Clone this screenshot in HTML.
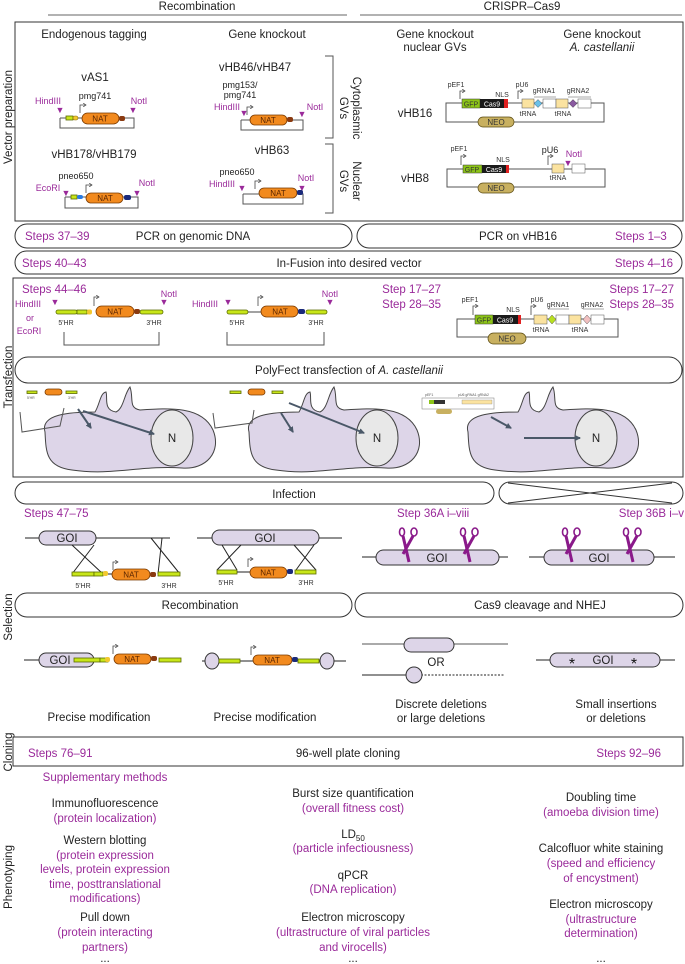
<!DOCTYPE html>
<html><head><meta charset="utf-8"><style>
html,body{margin:0;padding:0;background:#fff}
svg{display:block;font-family:"Liberation Sans",Arial,sans-serif}
.t{font-size:11.5px;fill:#222}
.p{font-size:11.5px;fill:#9a2a9a}
.s{font-size:9px;fill:#222}
.sp{font-size:9px;fill:#9a2a9a}
.xs{font-size:7px;fill:#333}
.n{font-size:8px;fill:#5a2500}
.ln{stroke:#555;fill:none;stroke-width:1}
.nat{fill:#f28a1e;stroke:#7a3a00;stroke-width:.8}
.gr{fill:#c8e619;stroke:#5a6a00;stroke-width:.8}
.goi{fill:#ddd5e8;stroke:#333;stroke-width:1}
.pill{fill:#fff;stroke:#333;stroke-width:1}
.ar{stroke:#4a5868;stroke-width:2;fill:none}
</style></head><body>
<svg width="685" height="964" viewBox="0 0 685 964">
<defs>
<marker id="ah" markerWidth="6" markerHeight="6" refX="5" refY="3" orient="auto" markerUnits="userSpaceOnUse"><path d="M0,0 L6,3 L0,6 Z" fill="#4a5868"/></marker>
<marker id="pa" markerWidth="4" markerHeight="4" refX="3" refY="2" orient="auto" markerUnits="userSpaceOnUse"><path d="M0,0 L3,2 L0,4" fill="none" stroke="#444" stroke-width=".7"/></marker>
<path id="blob" d="M45,432 C40,414 70,412 95,412 C100,404 100,393 106,392 C108,398 103,410 116,412 C124,408 124,394 130,387 C134,398 128,408 140,410 C170,408 202,406 213,430 C222,452 206,470 182,468 C142,465 112,476 72,470 C46,467 46,452 45,432 Z"/>
</defs>

<text x="197" y="10" class="t" text-anchor="middle">Recombination</text>
<line x1="48" y1="15" x2="347" y2="15" stroke="#666"/>
<text x="522" y="10" class="t" text-anchor="middle">CRISPR–Cas9</text>
<line x1="360" y1="15" x2="682" y2="15" stroke="#666"/>

<rect x="15" y="22" width="668" height="199" fill="none" stroke="#333"/>
<text transform="translate(12,117) rotate(-90)" class="t" text-anchor="middle">Vector preparation</text>
<text x="94" y="38" class="t" text-anchor="middle">Endogenous tagging</text>
<text x="267" y="38" class="t" text-anchor="middle">Gene knockout</text>
<text x="435" y="38" class="t" text-anchor="middle">Gene knockout</text>
<text x="435" y="51" class="t" text-anchor="middle">nuclear GVs</text>
<text x="602" y="38" class="t" text-anchor="middle">Gene knockout</text>
<text x="602" y="51" class="t" text-anchor="middle" font-style="italic">A. castellanii</text>

<text x="95" y="81" class="t" text-anchor="middle">vAS1</text>
<text x="95" y="99" class="s" text-anchor="middle">pmg741</text>
<text x="48" y="104" class="sp" text-anchor="middle">HindIII</text>
<text x="139" y="104" class="sp" text-anchor="middle">NotI</text>
<text x="60" y="113" class="sp" text-anchor="middle" font-size="8">▼</text>
<text x="133" y="113" class="sp" text-anchor="middle" font-size="8">▼</text>
<path class="ln" d="M60,118 V128 H134 V118 H60"/>
<rect x="66" y="116" width="7" height="4" class="gr"/><rect x="73" y="116" width="5" height="4" rx="2" fill="#f2c830" stroke="#8a6a00" stroke-width=".6"/>
<path d="M80,113 v-8 h6" fill="none" stroke="#444" stroke-width=".8" marker-end="url(#pa)"/>
<rect x="82" y="113" width="37" height="11" rx="5.5" class="nat"/><text x="100" y="121.5" class="n" text-anchor="middle">NAT</text>
<rect x="119" y="116" width="6" height="5" rx="2" fill="#8a3a10"/>

<text x="255" y="71" class="t" text-anchor="middle">vHB46/vHB47</text>
<text x="240" y="88" class="s" text-anchor="middle">pmg153/</text>
<text x="240" y="98" class="s" text-anchor="middle">pmg741</text>
<text x="227" y="110" class="sp" text-anchor="middle">HindIII</text>
<text x="315" y="110" class="sp" text-anchor="middle">NotI</text>
<text x="244" y="116" class="sp" text-anchor="middle" font-size="8">▼</text>
<text x="302" y="117" class="sp" text-anchor="middle" font-size="8">▼</text>
<path class="ln" d="M241,120 V130 H303 V120 H241"/>
<path d="M247,115 v-8 h6" fill="none" stroke="#444" stroke-width=".8" marker-end="url(#pa)"/>
<rect x="250" y="115" width="37" height="10" rx="5" class="nat"/><text x="268" y="123" class="n" text-anchor="middle">NAT</text>
<rect x="287" y="117" width="6" height="5" rx="2" fill="#8a3a10"/>

<path class="ln" d="M325,56 H333 V138 H325" stroke="#333"/>
<path class="ln" d="M325,144 H333 V213 H325" stroke="#333"/>
<text transform="translate(353,108) rotate(90)" class="t" text-anchor="middle">Cytoplasmic</text>
<text transform="translate(340,108) rotate(90)" class="t" text-anchor="middle">GVs</text>
<text transform="translate(353,181) rotate(90)" class="t" text-anchor="middle">Nuclear</text>
<text transform="translate(340,181) rotate(90)" class="t" text-anchor="middle">GVs</text>

<text x="94" y="158" class="t" text-anchor="middle">vHB178/vHB179</text>
<text x="76" y="179" class="s" text-anchor="middle">pneo650</text>
<text x="48" y="191" class="sp" text-anchor="middle">EcoRI</text>
<text x="147" y="186" class="sp" text-anchor="middle">NotI</text>
<text x="66" y="196" class="sp" text-anchor="middle" font-size="8">▼</text>
<text x="137" y="196" class="sp" text-anchor="middle" font-size="8">▼</text>
<path class="ln" d="M65,197 V208 H138 V197 H65"/>
<rect x="71" y="195" width="6" height="4" class="gr"/><rect x="77" y="195" width="6" height="4" rx="2" fill="#2a7ae0"/>
<path d="M86,193 v-8 h6" fill="none" stroke="#444" stroke-width=".8" marker-end="url(#pa)"/>
<rect x="86" y="193" width="37" height="10" rx="5" class="nat"/><text x="105" y="201" class="n" text-anchor="middle">NAT</text>
<rect x="124" y="195" width="7" height="5" rx="2" fill="#1a2a7a"/>

<text x="272" y="154" class="t" text-anchor="middle">vHB63</text>
<text x="237" y="175" class="s" text-anchor="middle">pneo650</text>
<text x="222" y="187" class="sp" text-anchor="middle">HindIII</text>
<text x="306" y="181" class="sp" text-anchor="middle">NotI</text>
<text x="242" y="191" class="sp" text-anchor="middle" font-size="8">▼</text>
<text x="302" y="191" class="sp" text-anchor="middle" font-size="8">▼</text>
<path class="ln" d="M243,194 V204 H303 V194 H243"/>
<path d="M255,189 v-8 h6" fill="none" stroke="#444" stroke-width=".8" marker-end="url(#pa)"/>
<rect x="259" y="188" width="38" height="10" rx="5" class="nat"/><text x="278" y="196" class="n" text-anchor="middle">NAT</text>
<rect x="297" y="190" width="6" height="5" rx="2" fill="#1a2a7a"/>

<text x="415" y="117" class="t" text-anchor="middle">vHB16</text>
<rect x="446" y="103" width="158" height="19" fill="none" stroke="#555"/>
<text x="456" y="87" class="xs" text-anchor="middle">pEF1</text>
<path d="M460,99 v-8 h5" fill="none" stroke="#444" stroke-width=".8" marker-end="url(#pa)"/>
<rect x="462" y="99" width="18" height="9" fill="#8cc418" stroke="#333" stroke-width=".5"/><text x="471" y="106.5" class="xs" text-anchor="middle">GFP</text>
<rect x="480" y="99" width="24" height="9" fill="#1a1a1a"/><text x="492" y="106.5" class="xs" style="fill:#fff" text-anchor="middle">Cas9</text>
<rect x="504" y="99" width="4" height="9" fill="#e02020"/>
<text x="502" y="97" class="xs" text-anchor="middle">NLS</text>
<text x="522" y="87" class="xs" text-anchor="middle">pU6</text>
<path d="M518,99 v-8 h5" fill="none" stroke="#444" stroke-width=".8" marker-end="url(#pa)"/>
<rect x="522" y="99" width="12" height="9" fill="#fbe3a0" stroke="#555" stroke-width=".5"/>
<path d="M538,99.5 l4,4 -4,4 -4,-4z" fill="#6ac0e8" stroke="#333" stroke-width=".4"/>
<rect x="543" y="99" width="13" height="9" fill="#fff" stroke="#555" stroke-width=".5"/>
<rect x="556" y="99" width="12" height="9" fill="#fbe3a0" stroke="#555" stroke-width=".5"/>
<path d="M573,99.5 l4,4 -4,4 -4,-4z" fill="#8a5aa0" stroke="#333" stroke-width=".4"/>
<rect x="578" y="99" width="13" height="9" fill="#fff" stroke="#555" stroke-width=".5"/>
<text x="544" y="93" class="xs" text-anchor="middle">gRNA1</text><line x1="534" y1="97" x2="556" y2="97" stroke="#555" stroke-width=".6"/>
<text x="578" y="93" class="xs" text-anchor="middle">gRNA2</text><line x1="568" y1="97" x2="591" y2="97" stroke="#555" stroke-width=".6"/>
<text x="528" y="116" class="xs" text-anchor="middle">tRNA</text><text x="563" y="116" class="xs" text-anchor="middle">tRNA</text>
<rect x="478" y="117" width="36" height="10" rx="5" fill="#c8b060" stroke="#5a4a10" stroke-width=".7"/><text x="496" y="125" class="n" text-anchor="middle" style="fill:#333">NEO</text>

<text x="415" y="182" class="t" text-anchor="middle">vHB8</text>
<rect x="447" y="169" width="158" height="18" fill="none" stroke="#555"/>
<text x="459" y="151" class="xs" text-anchor="middle">pEF1</text>
<path d="M461,165 v-9 h5" fill="none" stroke="#444" stroke-width=".8" marker-end="url(#pa)"/>
<rect x="463" y="165" width="19" height="8" fill="#8cc418" stroke="#333" stroke-width=".5"/><text x="472" y="172" class="xs" text-anchor="middle">GFP</text>
<rect x="482" y="165" width="24" height="8" fill="#1a1a1a"/><text x="494" y="172" class="xs" style="fill:#fff" text-anchor="middle">Cas9</text>
<rect x="506" y="165" width="3" height="8" fill="#e02020"/>
<text x="503" y="162" class="xs" text-anchor="middle">NLS</text>
<text x="550" y="153" class="s" text-anchor="middle">pU6</text>
<path d="M548,165 v-9 h5" fill="none" stroke="#444" stroke-width=".8" marker-end="url(#pa)"/>
<text x="574" y="157" class="sp" text-anchor="middle">NotI</text>
<text x="568" y="166" class="sp" text-anchor="middle" font-size="7">▼</text>
<rect x="552" y="164" width="12" height="9" fill="#fbe3a0" stroke="#555" stroke-width=".5"/>
<text x="558" y="180" class="xs" text-anchor="middle" font-size="6">tRNA</text>
<rect x="572" y="164" width="13" height="9" fill="#fff" stroke="#555" stroke-width=".5"/>
<rect x="478" y="183" width="36" height="10" rx="5" fill="#c8b060" stroke="#5a4a10" stroke-width=".7"/><text x="496" y="191" class="n" text-anchor="middle" style="fill:#333">NEO</text>

<rect x="15" y="224" width="337" height="24" rx="12" class="pill"/>
<text x="25" y="240" class="p">Steps 37–39</text>
<text x="193" y="240" class="t" text-anchor="middle">PCR on genomic DNA</text>
<rect x="357" y="224" width="325" height="24" rx="12" class="pill"/>
<text x="518" y="240" class="t" text-anchor="middle">PCR on vHB16</text>
<text x="615" y="240" class="p">Steps 1–3</text>

<rect x="15" y="251" width="667" height="23" rx="11.5" class="pill"/>
<text x="22" y="267" class="p">Steps 40–43</text>
<text x="349" y="267" class="t" text-anchor="middle">In-Fusion into desired vector</text>
<text x="673" y="267" class="p" text-anchor="end">Steps 4–16</text>

<rect x="13" y="278" width="670" height="199" fill="none" stroke="#333"/>
<text transform="translate(12,377) rotate(-90)" class="t" text-anchor="middle">Transfection</text>
<text x="22" y="293" class="p">Steps 44–46</text>
<text x="28" y="307" class="sp" text-anchor="middle" font-size="10">HindIII</text>
<text x="30" y="321" class="sp" text-anchor="middle" font-size="10">or</text>
<text x="29" y="334" class="sp" text-anchor="middle" font-size="10">EcoRI</text>
<text x="169" y="297" class="sp" text-anchor="middle" font-size="10">NotI</text>
<text x="55" y="305" class="sp" text-anchor="middle" font-size="8">▼</text>
<text x="164" y="305" class="sp" text-anchor="middle" font-size="8">▼</text>
<rect x="56" y="310" width="21" height="4" rx="2" class="gr"/>
<rect x="77" y="310" width="10" height="4" class="gr"/><rect x="87" y="309.5" width="5" height="5" rx="2" fill="#f2c830"/>
<path d="M94,306 v-9 h5" fill="none" stroke="#444" stroke-width=".8" marker-end="url(#pa)"/>
<rect x="96" y="306" width="38" height="11" rx="5.5" class="nat"/><text x="115" y="314.5" class="n" text-anchor="middle">NAT</text>
<rect x="134" y="309" width="6" height="5" rx="2" fill="#8a3a10"/>
<rect x="140" y="310" width="23" height="4" rx="2" class="gr"/>
<text x="66" y="325" class="xs" text-anchor="middle">5'HR</text><text x="154" y="325" class="xs" text-anchor="middle">3'HR</text>
<path class="ln" d="M64,332 V345 H159 V332"/>

<text x="205" y="307" class="sp" text-anchor="middle" font-size="10">HindIII</text>
<text x="330" y="297" class="sp" text-anchor="middle" font-size="10">NotI</text>
<text x="228" y="305" class="sp" text-anchor="middle" font-size="8">▼</text>
<text x="330" y="305" class="sp" text-anchor="middle" font-size="8">▼</text>
<rect x="227" y="310" width="21" height="4" rx="2" class="gr"/>
<line x1="248" y1="312" x2="262" y2="312" stroke="#444"/>
<path d="M258,306 v-9 h5" fill="none" stroke="#444" stroke-width=".8" marker-end="url(#pa)"/>
<rect x="261" y="306" width="37" height="11" rx="5.5" class="nat"/><text x="280" y="314.5" class="n" text-anchor="middle">NAT</text>
<rect x="298" y="309" width="7" height="5" rx="2" fill="#1a2a7a"/>
<rect x="306" y="310" width="21" height="4" rx="2" class="gr"/>
<text x="237" y="325" class="xs" text-anchor="middle">5'HR</text><text x="316" y="325" class="xs" text-anchor="middle">3'HR</text>
<path class="ln" d="M227,332 V345 H324 V332" stroke="#333"/>

<text x="441" y="293" class="p" text-anchor="end">Step 17–27</text>
<text x="441" y="308" class="p" text-anchor="end">Step 28–35</text>
<text x="674" y="293" class="p" text-anchor="end">Steps 17–27</text>
<text x="674" y="308" class="p" text-anchor="end">Steps 28–35</text>
<rect x="457" y="319" width="161" height="18" fill="none" stroke="#555"/>
<text x="470" y="302" class="xs" text-anchor="middle">pEF1</text>
<path d="M473,315 v-9 h5" fill="none" stroke="#444" stroke-width=".8" marker-end="url(#pa)"/>
<rect x="475" y="315" width="18" height="9" fill="#8cc418" stroke="#333" stroke-width=".5"/><text x="484" y="322.5" class="xs" text-anchor="middle">GFP</text>
<rect x="493" y="315" width="25" height="9" fill="#1a1a1a"/><text x="505" y="322.5" class="xs" style="fill:#fff" text-anchor="middle">Cas9</text>
<rect x="518" y="315" width="3" height="9" fill="#e02020"/>
<text x="513" y="312" class="xs" text-anchor="middle">NLS</text>
<text x="537" y="302" class="xs" text-anchor="middle">pU6</text>
<path d="M531,315 v-9 h5" fill="none" stroke="#444" stroke-width=".8" marker-end="url(#pa)"/>
<rect x="534" y="315" width="13" height="9" fill="#fbe3a0" stroke="#555" stroke-width=".5"/>
<path d="M552,315 l4,4.5 -4,4.5 -4,-4.5z" fill="#b8e020" stroke="#333" stroke-width=".4"/>
<rect x="556" y="315" width="13" height="9" fill="#fff" stroke="#555" stroke-width=".5"/>
<rect x="569" y="315" width="12" height="9" fill="#fbe3a0" stroke="#555" stroke-width=".5"/>
<path d="M587,315 l4,4.5 -4,4.5 -4,-4.5z" fill="#f2c0c0" stroke="#333" stroke-width=".4"/>
<rect x="591" y="315" width="13" height="9" fill="#fff" stroke="#555" stroke-width=".5"/>
<text x="558" y="307" class="xs" text-anchor="middle">gRNA1</text><line x1="548" y1="309" x2="569" y2="309" stroke="#555" stroke-width=".6"/>
<text x="592" y="307" class="xs" text-anchor="middle">gRNA2</text><line x1="583" y1="309" x2="604" y2="309" stroke="#555" stroke-width=".6"/>
<text x="541" y="332" class="xs" text-anchor="middle">tRNA</text><text x="580" y="332" class="xs" text-anchor="middle">tRNA</text>
<rect x="488" y="333" width="38" height="11" rx="5.5" fill="#c8b060" stroke="#5a4a10" stroke-width=".7"/><text x="507" y="341.5" class="n" text-anchor="middle" style="fill:#333">NEO</text>

<rect x="15" y="357" width="667" height="26" rx="13" class="pill"/>
<text x="349" y="374" class="t" text-anchor="middle">PolyFect transfection of <tspan font-style="italic">A. castellanii</tspan></text>

<use href="#blob" fill="#ddd5e8" stroke="#444" stroke-width="1"/>
<use href="#blob" transform="translate(204,0)" fill="#ddd5e8" stroke="#444" stroke-width="1"/>
<use href="#blob" transform="translate(423,0)" fill="#ddd5e8" stroke="#444" stroke-width="1"/>
<ellipse cx="172" cy="438" rx="21" ry="28" fill="#e8e8e8" stroke="#444"/>
<ellipse cx="377" cy="438" rx="21" ry="28" fill="#e8e8e8" stroke="#444"/>
<ellipse cx="596" cy="438" rx="21" ry="28" fill="#e8e8e8" stroke="#444"/>
<text x="172" y="442" class="t" text-anchor="middle" font-size="10">N</text>
<text x="377" y="442" class="t" text-anchor="middle" font-size="10">N</text>
<text x="596" y="442" class="t" text-anchor="middle" font-size="10">N</text>
<line x1="78" y1="409" x2="91" y2="428" class="ar" marker-end="url(#ah)"/>
<line x1="83" y1="411" x2="154" y2="434" class="ar" marker-end="url(#ah)"/>
<line x1="281" y1="413" x2="293" y2="432" class="ar" marker-end="url(#ah)"/>
<line x1="289" y1="403" x2="364" y2="433" class="ar" marker-end="url(#ah)"/>
<line x1="491" y1="417" x2="511" y2="428" class="ar" marker-end="url(#ah)"/>
<line x1="524" y1="438" x2="580" y2="438" class="ar" marker-end="url(#ah)"/>
<rect x="27" y="391" width="10" height="2.5" class="gr"/><rect x="45" y="389" width="17" height="6" rx="3" class="nat"/><rect x="66" y="391" width="11" height="2.5" class="gr"/>
<text x="27" y="399" font-size="3.5" fill="#555">5'HR</text><text x="68" y="399" font-size="3.5" fill="#555">3'HR</text>
<path class="ln" d="M20,412 L22,432 L60,426 L64,408" stroke-width=".6"/>
<rect x="230" y="391" width="11" height="2.5" class="gr"/><rect x="248" y="389" width="17" height="6" rx="3" class="nat"/><rect x="272" y="391" width="11" height="2.5" class="gr"/>
<path class="ln" d="M213,413 L215,428 L252,423 L254,410" stroke-width=".6"/>
<rect x="422" y="398" width="72" height="11" fill="#fff" stroke="#777" stroke-width=".5"/>
<rect x="429" y="400" width="16" height="4" fill="#333"/><rect x="429" y="400" width="5" height="4" fill="#8cc418"/>
<rect x="462" y="400" width="30" height="4" fill="#fbe3a0" stroke="#777" stroke-width=".3"/>
<rect x="436" y="409" width="16" height="5" rx="2.5" fill="#c8b060"/>
<text x="425" y="396" font-size="3.5" fill="#555">pEF1</text><text x="458" y="396" font-size="3.5" fill="#555">pU6 gRNA1 gRNA2</text>

<rect x="15" y="482" width="479" height="22" rx="11" class="pill"/>
<text x="294" y="498" class="t" text-anchor="middle">Infection</text>
<rect x="499" y="482" width="184" height="22" rx="11" class="pill"/>
<line x1="508" y1="483" x2="672" y2="503" stroke="#333"/><line x1="508" y1="503" x2="672" y2="483" stroke="#333"/>

<text x="24" y="517" class="p">Steps 47–75</text>
<text x="397" y="517" class="p">Step 36A i–viii</text>
<text x="684" y="517" class="p" text-anchor="end">Step 36B i–v</text>

<line x1="25" y1="538" x2="170" y2="538" stroke="#222"/>
<rect x="39" y="531" width="57" height="14" rx="7" class="goi"/><text x="67" y="542" class="t" text-anchor="middle">GOI</text>
<line x1="72" y1="545" x2="103" y2="574" stroke="#222"/><line x1="94" y1="545" x2="72" y2="574" stroke="#222"/>
<line x1="151" y1="538" x2="180" y2="574" stroke="#222"/><line x1="162" y1="538" x2="158" y2="574" stroke="#222"/>
<rect x="72" y="572" width="22" height="4" class="gr"/><rect x="94" y="572" width="9" height="4" class="gr"/><rect x="103" y="571" width="5" height="5" rx="2" fill="#f2c830"/>
<line x1="108" y1="574" x2="112" y2="574" stroke="#222"/>
<path d="M113,570 v-8 h5" fill="none" stroke="#444" stroke-width=".8" marker-end="url(#pa)"/>
<rect x="112" y="569" width="38" height="11" rx="5.5" class="nat"/><text x="131" y="577.5" class="n" text-anchor="middle">NAT</text>
<rect x="150" y="572" width="6" height="5" rx="2" fill="#8a3a10"/>
<rect x="158" y="572" width="22" height="4" class="gr"/>
<text x="83" y="588" class="xs" text-anchor="middle">5'HR</text><text x="169" y="588" class="xs" text-anchor="middle">3'HR</text>

<line x1="197" y1="538" x2="342" y2="538" stroke="#222"/>
<rect x="212" y="530" width="107" height="15" rx="7.5" class="goi"/><text x="265" y="542" class="t" text-anchor="middle">GOI</text>
<line x1="222" y1="545" x2="237" y2="570" stroke="#222"/><line x1="241" y1="545" x2="217" y2="570" stroke="#222"/>
<line x1="294" y1="545" x2="316" y2="570" stroke="#222"/><line x1="314" y1="545" x2="296" y2="570" stroke="#222"/>
<rect x="217" y="570" width="20" height="4" class="gr"/>
<line x1="237" y1="572" x2="250" y2="572" stroke="#222"/>
<path d="M248,567 v-8 h5" fill="none" stroke="#444" stroke-width=".8" marker-end="url(#pa)"/>
<rect x="250" y="567" width="37" height="11" rx="5.5" class="nat"/><text x="268" y="575.5" class="n" text-anchor="middle">NAT</text>
<rect x="287" y="569" width="6" height="5" rx="2" fill="#1a2a7a"/>
<rect x="295" y="570" width="21" height="4" class="gr"/>
<text x="226" y="585" class="xs" text-anchor="middle">5'HR</text><text x="306" y="585" class="xs" text-anchor="middle">3'HR</text>

<line x1="362" y1="557" x2="508" y2="557" stroke="#222"/>
<rect x="376" y="550" width="123" height="15" rx="7.5" class="goi"/><text x="437" y="562" class="t" text-anchor="middle">GOI</text>
<line x1="529" y1="557" x2="675" y2="557" stroke="#222"/>
<rect x="544" y="550" width="110" height="15" rx="7.5" class="goi"/><text x="599" y="562" class="t" text-anchor="middle">GOI</text>
<g fill="none" stroke="#8a1a8a" stroke-width="1.6">
<g transform="translate(399,528)"><ellipse cx="3" cy="4" rx="2.5" ry="4"/><ellipse cx="15" cy="4" rx="3" ry="4"/><path d="M4,8 L10,34 M14,8 L4,26" stroke-width="3"/></g>
<g transform="translate(460,528)"><ellipse cx="3" cy="4" rx="2.5" ry="4"/><ellipse cx="15" cy="4" rx="3" ry="4"/><path d="M4,8 L10,34 M14,8 L4,26" stroke-width="3"/></g>
<g transform="translate(562,528)"><ellipse cx="3" cy="4" rx="2.5" ry="4"/><ellipse cx="15" cy="4" rx="3" ry="4"/><path d="M4,8 L10,34 M14,8 L4,26" stroke-width="3"/></g>
<g transform="translate(623,528)"><ellipse cx="3" cy="4" rx="2.5" ry="4"/><ellipse cx="15" cy="4" rx="3" ry="4"/><path d="M4,8 L10,34 M14,8 L4,26" stroke-width="3"/></g>
</g>

<text transform="translate(12,617) rotate(-90)" class="t" text-anchor="middle">Selection</text>
<rect x="15" y="593" width="337" height="24" rx="12" class="pill"/>
<text x="200" y="609" class="t" text-anchor="middle">Recombination</text>
<rect x="355" y="593" width="328" height="24" rx="12" class="pill"/>
<text x="540" y="609" class="t" text-anchor="middle">Cas9 cleavage and NHEJ</text>

<line x1="24" y1="660" x2="40" y2="660" stroke="#222"/>
<rect x="39" y="653" width="55" height="14" rx="7" class="goi"/><text x="60" y="664" class="t" text-anchor="middle">GOI</text>
<rect x="74" y="658" width="26" height="4" class="gr"/><rect x="100" y="658" width="8" height="4" class="gr"/><rect x="105" y="657" width="5" height="5" rx="2" fill="#f2c830"/>
<path d="M113,654 v-8 h5" fill="none" stroke="#444" stroke-width=".8" marker-end="url(#pa)"/>
<rect x="114" y="654" width="37" height="10" rx="5" class="nat"/><text x="132" y="662" class="n" text-anchor="middle">NAT</text>
<rect x="151" y="656" width="6" height="5" rx="2" fill="#8a3a10"/><rect x="159" y="658" width="22" height="4" class="gr"/>

<line x1="202" y1="661" x2="346" y2="661" stroke="#222"/>
<ellipse cx="212" cy="661" rx="7" ry="8" class="goi"/>
<rect x="219" y="659" width="21" height="4" class="gr"/>
<path d="M251,655 v-8 h5" fill="none" stroke="#444" stroke-width=".8" marker-end="url(#pa)"/>
<rect x="253" y="655" width="39" height="10" rx="5" class="nat"/><text x="272" y="663" class="n" text-anchor="middle">NAT</text>
<rect x="292" y="657" width="6" height="5" rx="2" fill="#1a2a7a"/>
<rect x="298" y="659" width="21" height="4" class="gr"/>
<ellipse cx="327" cy="661" rx="7" ry="8" class="goi"/>

<line x1="362" y1="644" x2="508" y2="644" stroke="#555"/>
<rect x="404" y="638" width="50" height="14" rx="7" class="goi"/>
<text x="436" y="666" class="t" text-anchor="middle">OR</text>
<line x1="362" y1="675" x2="407" y2="675" stroke="#222"/>
<line x1="421" y1="675" x2="504" y2="675" stroke="#222" stroke-dasharray="2,1.5"/>
<ellipse cx="414" cy="675" rx="8" ry="8" class="goi"/>

<line x1="536" y1="660" x2="675" y2="660" stroke="#222"/>
<rect x="550" y="653" width="110" height="14" rx="7" class="goi"/>
<text x="603" y="664" class="t" text-anchor="middle">GOI</text>
<text x="572" y="669" font-size="16" fill="#111" text-anchor="middle">*</text>
<text x="634" y="669" font-size="16" fill="#111" text-anchor="middle">*</text>

<text x="99" y="721" class="t" text-anchor="middle">Precise modification</text>
<text x="265" y="721" class="t" text-anchor="middle">Precise modification</text>
<text x="441" y="708" class="t" text-anchor="middle">Discrete deletions</text>
<text x="441" y="722" class="t" text-anchor="middle">or large deletions</text>
<text x="616" y="708" class="t" text-anchor="middle">Small insertions</text>
<text x="616" y="722" class="t" text-anchor="middle">or deletions</text>

<text transform="translate(12,752) rotate(-90)" class="t" text-anchor="middle">Cloning</text>
<rect x="13" y="737" width="670" height="29" fill="none" stroke="#333"/>
<text x="28" y="757" class="p">Steps 76–91</text>
<text x="348" y="757" class="t" text-anchor="middle">96-well plate cloning</text>
<text x="661" y="757" class="p" text-anchor="end">Steps 92–96</text>

<text transform="translate(12,877) rotate(-90)" class="t" text-anchor="middle">Phenotyping</text>
<g text-anchor="middle">
<text x="105" y="781" class="p">Supplementary methods</text>
<text x="105" y="807" class="t">Immunofluorescence</text>
<text x="105" y="822" class="p">(protein localization)</text>
<text x="105" y="844" class="t">Western blotting</text>
<text x="105" y="859" class="p">(protein expression</text>
<text x="105" y="873" class="p">levels, protein expression</text>
<text x="105" y="888" class="p">time, posttranslational</text>
<text x="105" y="902" class="p">modifications)</text>
<text x="105" y="921" class="t">Pull down</text>
<text x="105" y="936" class="p">(protein interacting</text>
<text x="105" y="951" class="p">partners)</text>
<text x="105" y="962" class="t">...</text>

<text x="353" y="797" class="t">Burst size quantification</text>
<text x="353" y="812" class="p">(overall fitness cost)</text>
<text x="353" y="838" class="t">LD<tspan font-size="8" dy="3">50</tspan></text>
<text x="353" y="852" class="p">(particle infectiousness)</text>
<text x="353" y="879" class="t">qPCR</text>
<text x="353" y="893" class="p">(DNA replication)</text>
<text x="353" y="921" class="t">Electron microscopy</text>
<text x="353" y="936" class="p">(ultrastructure of viral particles</text>
<text x="353" y="951" class="p">and virocells)</text>
<text x="353" y="962" class="t">...</text>

<text x="601" y="801" class="t">Doubling time</text>
<text x="601" y="816" class="p">(amoeba division time)</text>
<text x="601" y="852" class="t">Calcofluor white staining</text>
<text x="601" y="867" class="p">(speed and efficiency</text>
<text x="601" y="882" class="p">of encystment)</text>
<text x="601" y="908" class="t">Electron microscopy</text>
<text x="601" y="923" class="p">(ultrastructure</text>
<text x="601" y="937" class="p">determination)</text>
<text x="601" y="962" class="t">...</text>
</g>
</svg>
</body></html>
